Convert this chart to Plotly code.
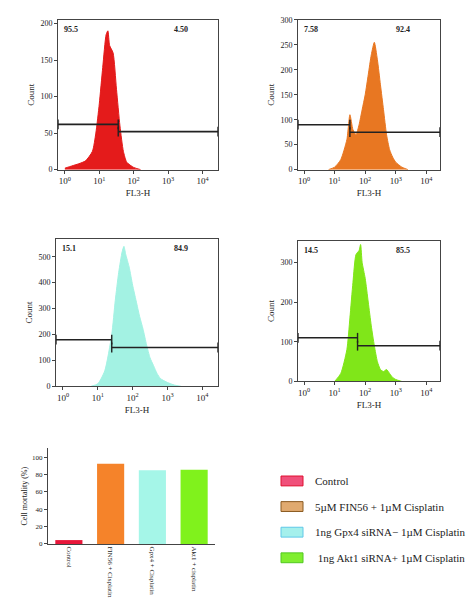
import plotly.graph_objects as go

# flow histograms: log10(FL3-H) bin centres and counts
h1_logx = [0, 0.2, 0.4, 0.6, 0.8, 0.9, 1.0, 1.1, 1.2, 1.25, 1.3, 1.4, 1.5, 1.6, 1.7, 1.8, 2.0, 2.2]
h1_cnt = [2, 5, 8, 12, 25, 50, 90, 140, 185, 190, 170, 160, 110, 60, 25, 10, 3, 0]
h2_logx = [0.8, 1.0, 1.2, 1.4, 1.5, 1.6, 1.7, 1.8, 1.9, 2.0, 2.1, 2.2, 2.3, 2.4, 2.5, 2.6, 2.7, 2.8, 2.9, 3.0, 3.2, 3.4]
h2_cnt = [0, 5, 20, 60, 110, 80, 70, 90, 120, 150, 190, 230, 255, 220, 170, 120, 70, 40, 25, 15, 5, 0]
h3_logx = [0.8, 1.0, 1.2, 1.4, 1.5, 1.6, 1.7, 1.75, 1.8, 1.9, 2.0, 2.1, 2.2, 2.3, 2.4, 2.5, 2.6, 2.7, 2.8, 3.0, 3.2, 3.4]
h3_cnt = [0, 10, 60, 200, 330, 440, 520, 540, 510, 460, 390, 330, 270, 220, 160, 110, 80, 50, 30, 15, 5, 0]
h4_logx = [1.0, 1.2, 1.4, 1.5, 1.6, 1.7, 1.8, 1.85, 1.9, 2.0, 2.1, 2.2, 2.3, 2.4, 2.5, 2.6, 2.7, 2.8, 2.9, 3.0, 3.2]
h4_cnt = [0, 20, 80, 160, 250, 320, 330, 345, 300, 260, 200, 140, 90, 50, 30, 25, 30, 20, 10, 5, 0]

gate_split = [1.55, 1.5, 1.4, 1.75]      # log10 of gate boundary
gate_left_y = [62, 90, 180, 110]
gate_right_y = [52, 75, 150, 90]
pct_left = ["95.5", "7.58", "15.1", "14.5"]
pct_right = ["4.50", "92.4", "84.9", "85.5"]
y_max = [205, 300, 570, 355]
y_dtick = [50, 50, 100, 100]
decades = [0, 1, 2, 3, 4]

groups = ["Control", "FIN56 + Cisplatin", "Gpx4 + Cisplatin", "Akt1 + cisplatin"]
mortality = [4.5, 92.4, 84.9, 85.5]
legend_labels = ["Control", "5µM FIN56 + 1µM Cisplatin",
                 "1ng Gpx4 siRNA− 1µM Cisplatin", " 1ng Akt1 siRNA+ 1µM Cisplatin"]

hist_colors = ["#e41b1b", "#e87722", "#a3f2e3", "#80e619"]
bar_colors = ["#e8173a", "#f5832a", "#a5f6e8", "#80f21c"]
legend_fill = ["#f0507a", "#e0aa70", "#a5f0ec", "#80ee30"]
legend_edge = ["#e01030", "#8a5a20", "#60c8e8", "#50c820"]

W, H = 474, 607
def px(x0, x1):
    return [x0 / W, x1 / W]
def py(y0, y1):
    return [1 - y1 / H, 1 - y0 / H]

doms = [(px(50, 210), py(8, 160)), (px(290, 432), py(8, 160)),
        (px(48, 210), py(230, 380)), (px(290, 432), py(232, 375))]
hists = [(h1_logx, h1_cnt), (h2_logx, h2_cnt), (h3_logx, h3_cnt), (h4_logx, h4_cnt)]

font = dict(family="Liberation Serif, Times New Roman, serif", size=9, color="#222")
fig = go.Figure()
lay = {}
ann = []
for i in range(4):
    xa = "x" if i == 0 else f"x{i+1}"
    ya = "y" if i == 0 else f"y{i+1}"
    lx, cnt = hists[i]
    fig.add_trace(go.Scatter(x=[10 ** v for v in lx], y=cnt, fill="tozeroy", mode="lines",
                             line=dict(color=hist_colors[i], width=1, shape="spline", smoothing=0.6),
                             fillcolor=hist_colors[i], xaxis=xa, yaxis=ya, showlegend=False))
    s = 10 ** gate_split[i]
    for xs, yv in [([10 ** -0.2, s], gate_left_y[i]), ([s, 10 ** 4.45], gate_right_y[i])]:
        fig.add_trace(go.Scatter(x=xs, y=[yv, yv], mode="lines+markers",
                                 line=dict(color="#222", width=1.6),
                                 marker=dict(symbol="line-ns-open", size=7, color="#222", line=dict(width=1.4)),
                                 xaxis=xa, yaxis=ya, showlegend=False, cliponaxis=False))
    dx, dy = doms[i]
    lay["xaxis" if i == 0 else f"xaxis{i+1}"] = dict(
        domain=dx, anchor=ya, type="log", range=[-0.2, 4.45],
        tickvals=[10 ** d for d in decades], ticktext=[f"10<sup>{d}</sup>" for d in decades],
        showline=True, linecolor="#444", mirror=True, ticks="outside", ticklen=3, showgrid=False,
        title=dict(text="FL3-H", font=dict(size=9), standoff=4), tickfont=dict(size=9))
    lay["yaxis" if i == 0 else f"yaxis{i+1}"] = dict(
        domain=dy, anchor=xa, range=[0, y_max[i]], dtick=y_dtick[i],
        showline=True, linecolor="#444", mirror=True, ticks="outside", ticklen=3, showgrid=False,
        title=dict(text="Count", font=dict(size=9), standoff=4), tickfont=dict(size=8))
    ann.append(dict(text=f"<b>{pct_left[i]}</b>", x=dx[0] + 0.008, y=dy[1] - 0.006, xref="paper", yref="paper",
                    xanchor="left", yanchor="top", showarrow=False, font=dict(size=8)))
    ann.append(dict(text=f"<b>{pct_right[i]}</b>", x=dx[1] - 0.06, y=dy[1] - 0.006, xref="paper", yref="paper",
                    xanchor="right", yanchor="top", showarrow=False, font=dict(size=8)))

fig.add_trace(go.Bar(x=groups, y=mortality, marker=dict(color=bar_colors, line=dict(width=0)),
                     width=0.65, xaxis="x5", yaxis="y5", showlegend=False))
lay["xaxis5"] = dict(domain=px(40, 207), anchor="y5", tickangle=90, showline=True, linecolor="#444",
                     tickfont=dict(size=7))
lay["yaxis5"] = dict(domain=py(443, 540), anchor="x5", range=[0, 110], dtick=20, showline=True,
                     linecolor="#444", ticks="outside", ticklen=3, showgrid=False, tickfont=dict(size=7),
                     title=dict(text="Cell mortality (%)", font=dict(size=8), standoff=3))

shapes = []
for k, lab in enumerate(legend_labels):
    yc = 476 + k * 26
    shapes.append(dict(type="rect", xref="paper", yref="paper", x0=273 / W, x1=295 / W,
                       y0=1 - (yc + 5) / H, y1=1 - (yc - 5) / H,
                       fillcolor=legend_fill[k], line=dict(color=legend_edge[k], width=1)))
    ann.append(dict(text=lab, x=305 / W, y=1 - yc / H, xref="paper", yref="paper", xanchor="left",
                    yanchor="middle", showarrow=False, font=dict(size=11)))

fig.update_layout(width=W, height=H, margin=dict(l=0, r=0, t=0, b=0), plot_bgcolor="white",
                  paper_bgcolor="white", font=font, annotations=ann, shapes=shapes, bargap=0.3, **lay)
fig.write_html("out.html")
